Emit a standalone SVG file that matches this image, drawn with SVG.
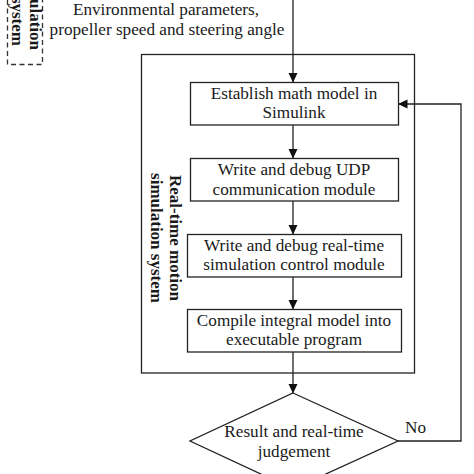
<svg xmlns="http://www.w3.org/2000/svg" width="474" height="474" viewBox="0 0 474 474">
<defs>
<marker id="ah" markerWidth="10" markerHeight="10" refX="9" refY="5" orient="auto" markerUnits="userSpaceOnUse">
<path d="M0,0.5 L9.5,5 L0,9.5 Z" fill="#111"/>
</marker>
</defs>
<style>
text{font-family:"Liberation Serif","Times New Roman",serif;font-size:17.2px;fill:#1a1a1a}
.c{text-anchor:middle}
.b{font-weight:bold;font-size:17px}
.box{fill:#fff;stroke:#222;stroke-width:1.3}
.ln{fill:none;stroke:#222;stroke-width:1.3}
</style>
<rect width="474" height="474" fill="#fff"/>
<g id="visual-system">
<rect x="7.5" y="-10" width="35" height="74.5" fill="none" stroke="#333" stroke-width="1.3" stroke-dasharray="5,3.5"/>
<text class="b" text-anchor="end" transform="translate(30,50) rotate(90)">simulation</text>
<text class="b" text-anchor="end" transform="translate(12,46) rotate(90)">system</text>
</g>
<g id="input-label">
<text class="c" x="166" y="15">Environmental parameters,</text>
<text class="c" x="167" y="35">propeller speed and steering angle</text>
</g>
<g id="rt-system">
<rect class="ln" x="141.5" y="54.5" width="273" height="318.5"/>
<text class="c b" transform="translate(170,238) rotate(90)">Real-time motion</text>
<text class="c b" transform="translate(151,238) rotate(90)">simulation system</text>
</g>
<g id="connectors">
<line class="ln" x1="293" y1="0" x2="293" y2="82" marker-end="url(#ah)"/>
<line class="ln" x1="293" y1="125" x2="293" y2="158" marker-end="url(#ah)"/>
<line class="ln" x1="293" y1="201" x2="293" y2="234" marker-end="url(#ah)"/>
<line class="ln" x1="293" y1="277" x2="293" y2="309" marker-end="url(#ah)"/>
<line class="ln" x1="293" y1="352" x2="293" y2="393" marker-end="url(#ah)"/>
<polyline class="ln" points="398,441 461,441 461,104 398.5,104" marker-end="url(#ah)"/>
</g>
<g id="n1">
<rect class="box" x="190.5" y="82.5" width="208" height="42.5"/>
<text class="c" x="294" y="99">Establish math model in</text>
<text class="c" x="294" y="118">Simulink</text>
</g>
<g id="n2">
<rect class="box" x="190.5" y="158.5" width="208" height="42.5"/>
<text class="c" x="294" y="175">Write and debug UDP</text>
<text class="c" x="294" y="195">communication module</text>
</g>
<g id="n3">
<rect class="box" x="187.5" y="234.5" width="214" height="42.5"/>
<text class="c" x="294" y="251">Write and debug real-time</text>
<text class="c" x="294" y="270">simulation control module</text>
</g>
<g id="n4">
<rect class="box" x="187.5" y="309.5" width="214" height="42.5"/>
<text class="c" x="294" y="326">Compile integral model into</text>
<text class="c" x="294" y="345">executable program</text>
</g>
<g id="n5">
<polygon class="box" points="293,393 398,441 293,489 190,441"/>
<text class="c" x="294" y="437">Result and real-time</text>
<text class="c" x="294" y="457">judgement</text>
</g>
<text x="405" y="433">No</text>
</svg>
